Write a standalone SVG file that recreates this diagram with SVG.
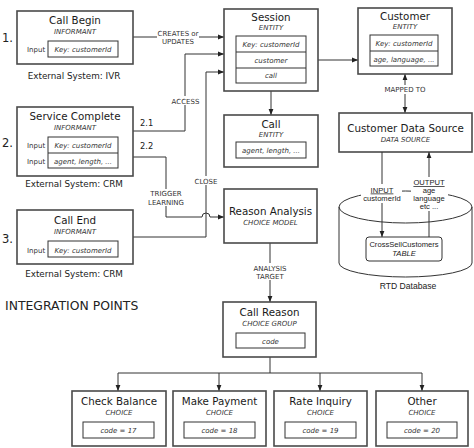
<svg xmlns="http://www.w3.org/2000/svg" width="474" height="448" viewBox="0 0 474 448">
<defs>
<style>
.box{fill:#fff;stroke:#4a4a4a;stroke-width:1.6}
.ib{fill:#fff;stroke:#333;stroke-width:1}
.ln{fill:none;stroke:#333;stroke-width:1}
.t{font-family:"DejaVu Sans",Verdana,sans-serif;font-size:10.3px;fill:#1a1a1a;text-anchor:middle}
.s{font-family:"DejaVu Sans",Verdana,sans-serif;font-size:7px;font-style:italic;fill:#333;text-anchor:middle}
.n{font-family:"DejaVu Sans",Verdana,sans-serif;font-size:7px;fill:#333}
.lb{font-family:"DejaVu Sans",Verdana,sans-serif;font-size:7px;fill:#333;text-anchor:middle}
.ext{font-family:"DejaVu Sans",Verdana,sans-serif;font-size:8.8px;fill:#222;text-anchor:middle}
.num{font-family:"DejaVu Sans",Verdana,sans-serif;font-size:11.5px;fill:#222}
.sm{font-family:"DejaVu Sans",Verdana,sans-serif;font-size:8.3px;fill:#222}
.ar{font-family:"Liberation Sans",Arial,sans-serif;font-size:7.6px;fill:#222;text-anchor:middle}
.wb{fill:#fff;stroke:none}
</style>
<marker id="a" viewBox="0 0 10 10" refX="10" refY="5" markerWidth="6" markerHeight="6" orient="auto-start-reverse" markerUnits="userSpaceOnUse"><path d="M0,1 L10,5 L0,9 z" fill="#222"/></marker>
</defs>
<rect width="474" height="448" fill="#fff"/>

<!-- connectors -->
<g id="connectors">
<path class="ln" d="M133,37 H224" marker-end="url(#a)"/>
<path class="ln" d="M133,131 H185 V54 H224" marker-end="url(#a)"/>
<path class="ln" d="M133,237 H206 V72 H224" marker-end="url(#a)"/>
<path class="ln" d="M133,157 H166 V217 H202 a4,4 0 0 1 8,0 H224" marker-end="url(#a)"/>
<path class="ln" d="M306,60 H358" marker-end="url(#a)"/>
<path class="ln" d="M271,83 V115" marker-end="url(#a)"/>
<path class="ln" d="M405,74 V113" marker-start="url(#a)" marker-end="url(#a)"/>
<path class="ln" d="M270,243 V302" marker-end="url(#a)"/>
<path class="ln" d="M270,357 V373 M118,373 H422"/>
<path class="ln" d="M118,373 V391" marker-end="url(#a)"/>
<path class="ln" d="M219,373 V391" marker-end="url(#a)"/>
<path class="ln" d="M320,373 V391" marker-end="url(#a)"/>
<path class="ln" d="M422,373 V391" marker-end="url(#a)"/>
<!-- labels -->
<rect class="wb" x="157" y="29" width="42" height="17"/>
<text class="lb" x="178" y="35.5">CREATES or</text>
<text class="lb" x="178" y="44">UPDATES</text>
<rect class="wb" x="171" y="96" width="29" height="9"/>
<text class="lb" x="185.5" y="103.5">ACCESS</text>
<text class="sm" x="140" y="126">2.1</text>
<text class="sm" x="140" y="149">2.2</text>
<rect class="wb" x="145" y="189" width="42" height="17"/>
<text class="lb" x="166" y="196">TRIGGER</text>
<text class="lb" x="166" y="204.5">LEARNING</text>
<rect class="wb" x="191" y="176" width="30" height="9"/>
<text class="lb" x="206" y="183.5">CLOSE</text>
<rect class="wb" x="385" y="85" width="40" height="9"/>
<text class="lb" x="405" y="92">MAPPED TO</text>
<rect class="wb" x="250" y="263" width="41" height="17"/>
<text class="lb" x="270" y="270.5">ANALYSIS</text>
<text class="lb" x="270" y="279">TARGET</text>
</g>

<!-- informants -->
<g id="call-begin">
<text class="num" x="2" y="42">1.</text>
<rect class="box" x="17" y="11" width="116" height="53"/>
<text class="t" x="75" y="24">Call Begin</text>
<text class="s" x="75" y="33.5">INFORMANT</text>
<text class="n" x="27" y="52">Input</text>
<rect class="ib" x="48" y="41" width="70" height="16"/>
<text class="s" x="83" y="52">Key: customerId</text>
<text class="ext" x="74" y="79">External System: IVR</text>
</g>

<g id="service-complete">
<text class="num" x="2" y="147">2.</text>
<rect class="box" x="17" y="107" width="116" height="69"/>
<text class="t" x="75" y="120">Service Complete</text>
<text class="s" x="75" y="129.5">INFORMANT</text>
<text class="n" x="27" y="148">Input</text>
<text class="n" x="27" y="164">Input</text>
<rect class="ib" x="48" y="137" width="70" height="31"/>
<path class="ln" d="M48,153 H118"/>
<text class="s" x="83" y="148">Key: customerId</text>
<text class="s" x="83" y="164">agent, length, ...</text>
<text class="ext" x="74" y="187">External System: CRM</text>
</g>

<g id="call-end">
<text class="num" x="2" y="243">3.</text>
<rect class="box" x="17" y="210" width="116" height="54"/>
<text class="t" x="75" y="224">Call End</text>
<text class="s" x="75" y="233.5">INFORMANT</text>
<text class="n" x="27" y="252.5">Input</text>
<rect class="ib" x="48" y="241" width="70" height="16"/>
<text class="s" x="83" y="252.5">Key: customerId</text>
<text class="ext" x="74" y="277">External System: CRM</text>
</g>

<!-- entities -->
<g id="session">
<rect class="box" x="224" y="9" width="94" height="82"/>
<text class="t" x="271" y="21">Session</text>
<text class="s" x="271" y="30">ENTITY</text>
<rect class="ib" x="236" y="36" width="70" height="47"/>
<path class="ln" d="M236,52 H306 M236,68 H306"/>
<text class="s" x="271" y="46.5">Key: customerId</text>
<text class="s" x="271" y="62.5">customer</text>
<text class="s" x="271" y="78">call</text>
</g>

<g id="customer">
<rect class="box" x="358" y="8" width="94" height="66"/>
<text class="t" x="405" y="20">Customer</text>
<text class="s" x="405" y="29">ENTITY</text>
<rect class="ib" x="370" y="35" width="68" height="31"/>
<path class="ln" d="M370,51 H438"/>
<text class="s" x="404" y="46">Key: customerId</text>
<text class="s" x="404" y="61.5">age, language, ...</text>
</g>

<g id="call">
<rect class="box" x="224" y="115" width="94" height="52"/>
<text class="t" x="271" y="128">Call</text>
<text class="s" x="271" y="137">ENTITY</text>
<rect class="ib" x="236" y="142" width="70" height="16"/>
<text class="s" x="271" y="153">agent, length, ...</text>
</g>

<g id="customer-data-source">
<rect class="box" x="339" y="113" width="133" height="39"/>
<text class="t" x="405.5" y="132">Customer Data Source</text>
<text class="s" x="405.5" y="142">DATA SOURCE</text>
</g>

<g id="rtd-database">
<path class="ln" d="M339,207 V263 A66.5,14 0 0 0 472,263 V207"/>
<ellipse class="ln" cx="405.5" cy="207" rx="66.5" ry="16"/>
<path class="ln" d="M382,152 V237" marker-end="url(#a)"/>
<path class="ln" d="M429,237 V152" marker-end="url(#a)"/>
<rect class="wb" x="361" y="184" width="41" height="19"/>
<text class="ar" x="382" y="192.5" text-decoration="underline">INPUT</text>
<text class="ar" x="382" y="201">customerId</text>
<rect class="wb" x="411" y="177" width="37" height="34"/>
<text class="ar" x="429" y="185" text-decoration="underline">OUTPUT</text>
<text class="ar" x="429" y="193">age</text>
<text class="ar" x="429" y="201">language</text>
<text class="ar" x="429" y="209">etc ...</text>
<rect class="ib" x="366" y="237" width="76" height="24" rx="3"/>
<text class="ar" x="404" y="247">CrossSellCustomers</text>
<text class="ar" x="404" y="256" font-style="italic">TABLE</text>
<text class="ar" x="408" y="288.5" style="font-size:8.6px">RTD Database</text>
</g>

<g id="reason-analysis">
<rect class="box" x="224" y="189" width="93" height="54"/>
<text class="t" x="270.5" y="215">Reason Analysis</text>
<text class="s" x="270.5" y="224.5">CHOICE MODEL</text>
</g>

<text x="5" y="309.5" style="font-family:'DejaVu Sans',Verdana,sans-serif;font-size:12.4px;fill:#222">INTEGRATION POINTS</text>

<g id="call-reason">
<rect class="box" x="223" y="302" width="93" height="55"/>
<text class="t" x="269.5" y="316">Call Reason</text>
<text class="s" x="269.5" y="325.5">CHOICE GROUP</text>
<rect class="ib" x="236" y="333" width="69" height="15"/>
<text class="s" x="270.5" y="343.5">code</text>
</g>

<g id="check-balance">
<rect class="box" x="72" y="391" width="94" height="55"/>
<text class="t" x="119" y="405">Check Balance</text>
<text class="s" x="119" y="414.5">CHOICE</text>
<rect class="ib" x="83" y="422" width="71" height="16"/>
<text class="s" x="118.5" y="433">code = 17</text>
</g>

<g id="make-payment">
<rect class="box" x="173" y="391" width="93" height="55"/>
<text class="t" x="219.5" y="405">Make Payment</text>
<text class="s" x="219.5" y="414.5">CHOICE</text>
<rect class="ib" x="184" y="422" width="71" height="16"/>
<text class="s" x="219.5" y="433">code = 18</text>
</g>

<g id="rate-inquiry">
<rect class="box" x="274" y="391" width="93" height="55"/>
<text class="t" x="320.5" y="405">Rate Inquiry</text>
<text class="s" x="320.5" y="414.5">CHOICE</text>
<rect class="ib" x="285" y="422" width="71" height="16"/>
<text class="s" x="320.5" y="433">code = 19</text>
</g>

<g id="other">
<rect class="box" x="376" y="391" width="92" height="55"/>
<text class="t" x="422" y="405">Other</text>
<text class="s" x="422" y="414.5">CHOICE</text>
<rect class="ib" x="387" y="422" width="70" height="16"/>
<text class="s" x="422" y="433">code = 20</text>
</g>
</svg>
